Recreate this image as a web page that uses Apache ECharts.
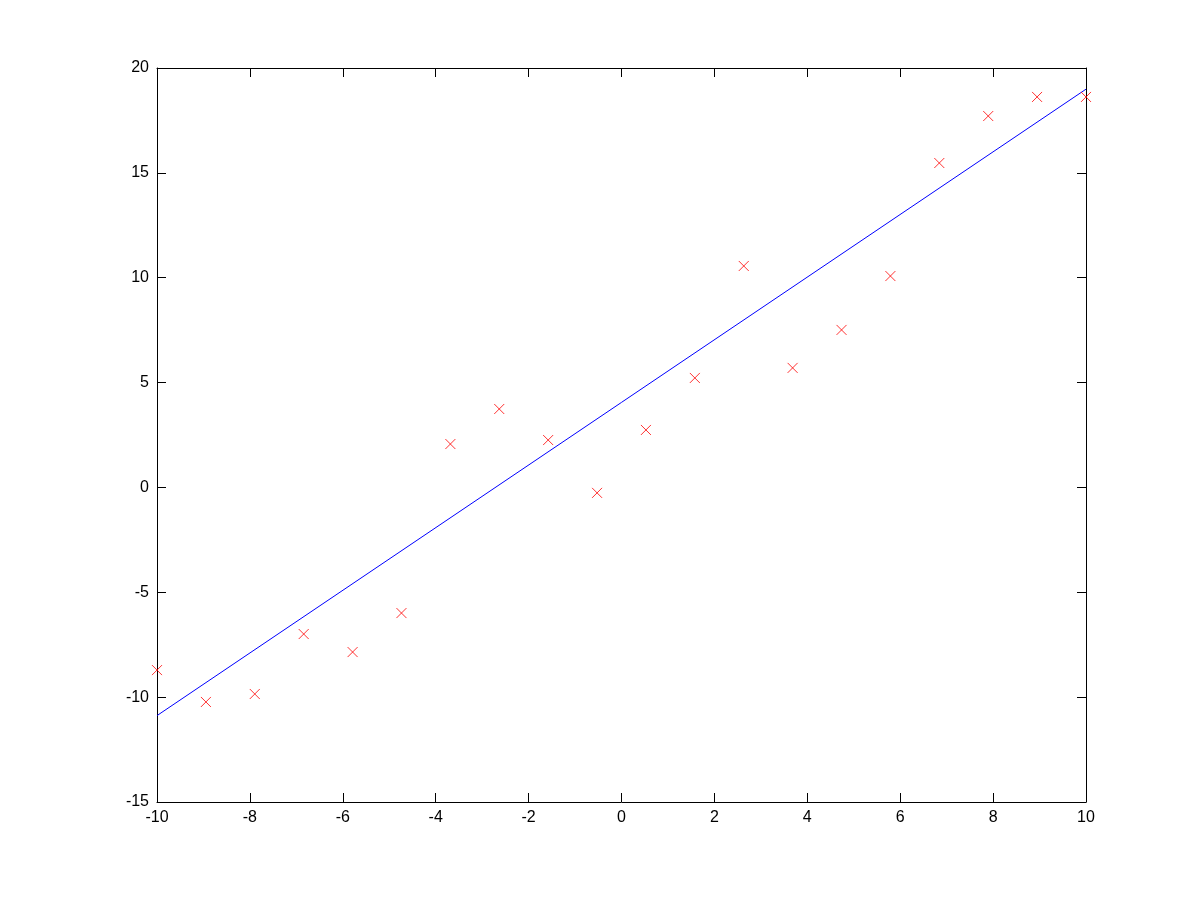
<!DOCTYPE html>
<html>
<head>
<meta charset="utf-8">
<script src="https://cdn.jsdelivr.net/npm/echarts@6/dist/echarts.min.js"></script>
<style>html,body{margin:0;padding:0;background:#fff;}#chart{width:1200px;height:900px;}</style>
</head>
<body>
<div id="chart"></div>
<script>
var xValues = [-10, -8.947, -7.895, -6.842, -5.789, -4.737, -3.684, -2.632, -1.579, -0.526, 0.526, 1.579, 2.632, 3.684, 4.737, 5.789, 6.842, 7.895, 8.947, 10];
var yValues = [-8.71, -10.23, -9.85, -6.99, -7.85, -5.99, 2.07, 3.74, 2.26, -0.26, 2.74, 5.22, 10.56, 5.70, 7.51, 10.08, 15.47, 17.71, 18.62, 18.62];
var fitX = [-10, 10];
var fitY = [-10.88, 18.99];
var xTicks = { min: -10, max: 10, interval: 2 };
var yTicks = { min: -15, max: 20, interval: 5 };

var scatterData = xValues.map(function (x, i) { return [x, yValues[i]]; });
var lineData = fitX.map(function (x, i) { return [x, fitY[i]]; });

var font = { color: '#000', fontSize: 16, fontFamily: 'Liberation Sans, Arial, sans-serif' };
function axisBase(extra) {
  var a = {
    type: 'value',
    axisLine: { show: true, onZero: false, lineStyle: { color: '#000', width: 1 } },
    axisTick: { show: true, inside: true, length: 9, lineStyle: { color: '#000' } },
    splitLine: { show: false },
    axisLabel: Object.assign({ margin: 8 }, font)
  };
  return Object.assign(a, extra);
}

var chart = echarts.init(document.getElementById('chart'));
chart.setOption({
  animation: false,
  backgroundColor: '#fff',
  grid: { left: 157, right: 114, top: 68, bottom: 98, show: false },
  xAxis: [
    axisBase({ position: 'bottom', min: xTicks.min, max: xTicks.max, interval: xTicks.interval }),
    axisBase({ position: 'top', min: xTicks.min, max: xTicks.max, interval: xTicks.interval, axisLabel: { show: false } })
  ],
  yAxis: [
    axisBase({ position: 'left', min: yTicks.min, max: yTicks.max, interval: yTicks.interval }),
    axisBase({ position: 'right', min: yTicks.min, max: yTicks.max, interval: yTicks.interval, axisLabel: { show: false } })
  ],
  series: [
    {
      type: 'line',
      data: lineData,
      showSymbol: false,
      symbol: 'none',
      lineStyle: { color: '#0000ff', width: 1 },
      z: 2
    },
    {
      type: 'scatter',
      data: scatterData,
      symbol: 'path://M0,0L10,10M10,0L0,10',
      symbolSize: 10,
      itemStyle: { color: 'none', borderColor: '#ff0000', borderWidth: 1 },
      z: 3
    }
  ]
});
</script>
</body>
</html>
